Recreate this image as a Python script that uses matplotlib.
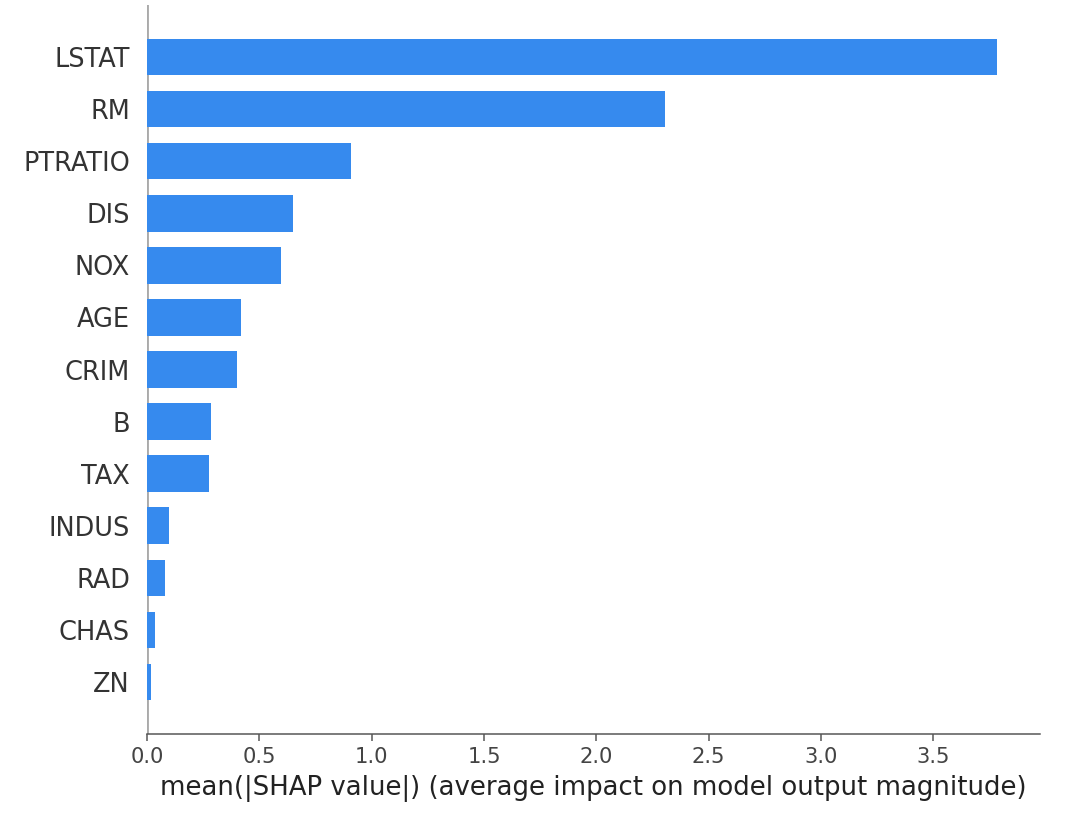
import matplotlib
matplotlib.use("Agg")
import matplotlib.pyplot as plt
import numpy as np

features = ["LSTAT", "RM", "PTRATIO", "DIS", "NOX", "AGE", "CRIM", "B", "TAX",
            "INDUS", "RAD", "CHAS", "ZN"]
values = [3.785, 2.307, 0.908, 0.650, 0.597, 0.419, 0.401, 0.285, 0.276,
          0.098, 0.080, 0.036, 0.018]

axis_color = "#333333"
bar_color = "#368AEE"

fig = plt.figure(figsize=(1076 / 136, 822 / 136), dpi=136)
ax = fig.add_axes([147 / 1076, 1 - 734 / 822, (1040 - 147) / 1076, (734 - 5) / 822])

n = len(features)
y_pos = np.arange(n)[::-1]
ax.barh(y_pos, values, 0.7, align="center", color=bar_color)
ax.axvline(x=0, color="#aaaaaa", zorder=-1)

ax.set_yticks(y_pos)
ax.set_yticklabels(features, fontsize=13.6)
ax.set_ylim(-1, n)
ax.set_xlim(0, max(values) * 1.05)
ax.set_xticks([0.0, 0.5, 1.0, 1.5, 2.0, 2.5, 3.0, 3.5])

ax.xaxis.set_ticks_position("bottom")
ax.yaxis.set_ticks_position("none")
for s in ["right", "top", "left"]:
    ax.spines[s].set_visible(False)
ax.spines["bottom"].set_color("#555555")
ax.tick_params(color="#555555", labelcolor=axis_color)
ax.tick_params("y", length=0, pad=9)
ax.tick_params("x", labelsize=11.2, labelcolor="#444444")
ax.set_xlabel("mean(|SHAP value|) (average impact on model output magnitude)",
              fontsize=13.8, color="#222222")

fig.savefig("out.png", dpi=136)
